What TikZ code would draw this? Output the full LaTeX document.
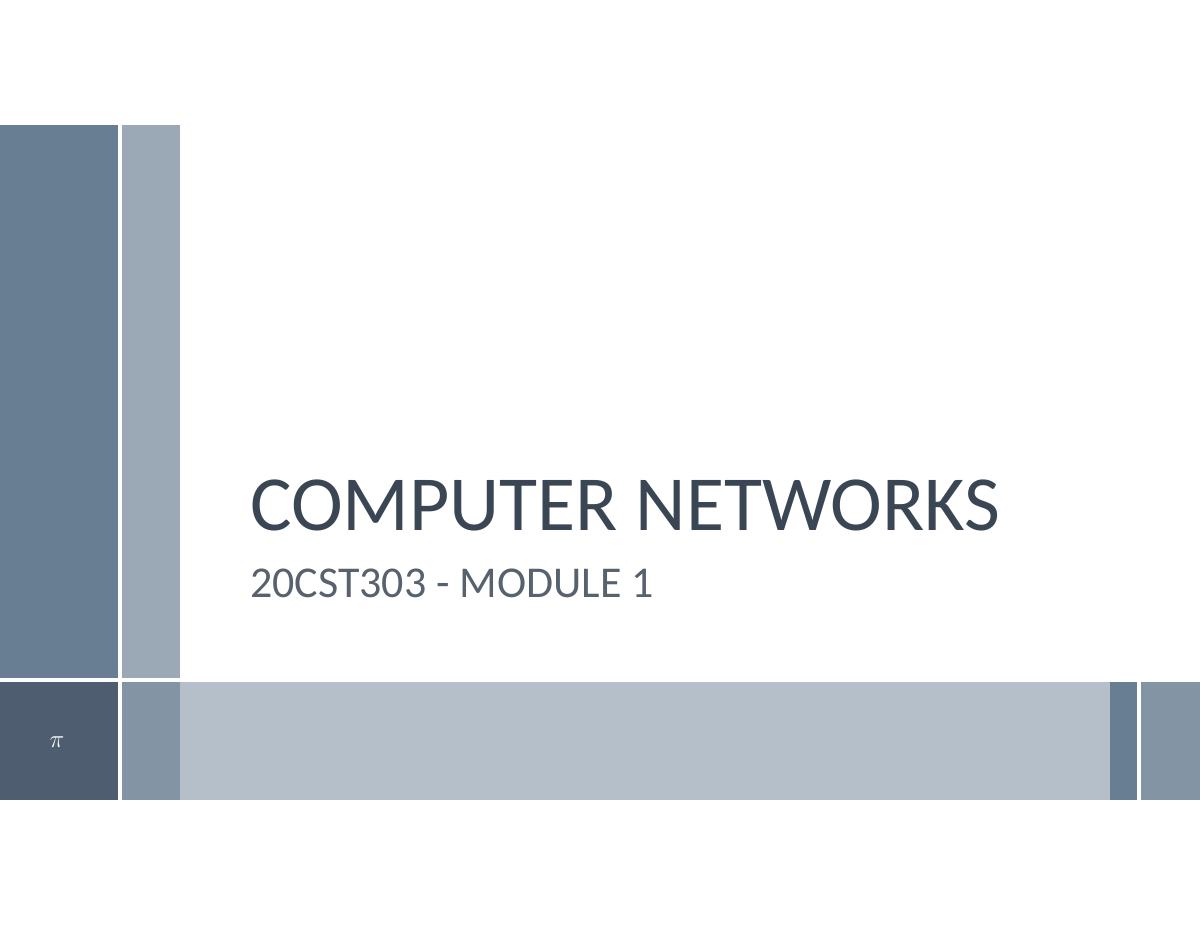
\documentclass[tikz,border=0pt]{standalone}
\usepackage{fontspec}
\setmainfont{Carlito}
\definecolor{cA}{HTML}{687E93}
\definecolor{cB}{HTML}{9BA9B6}
\definecolor{cC}{HTML}{4E5E70}
\definecolor{cD}{HTML}{8395A4}
\definecolor{cE}{HTML}{B5BFC9}
\definecolor{txt}{HTML}{3A4654}
\begin{document}
\begin{tikzpicture}[x=1pt,y=-1pt]
\fill[white] (0,0) rectangle (1200,927);
\fill[cA] (0,125) rectangle (118,678);
\fill[cB] (122,125) rectangle (180,678);
\fill[cC] (0,682) rectangle (118,800);
\fill[cD] (122,682) rectangle (180,800);
\fill[cE] (180,682) rectangle (1110,800);
\fill[cA] (1110,682) rectangle (1137,800);
\fill[cD] (1141,682) rectangle (1200,800);
\node[text=white,font=\fontsize{70}{70}\selectfont] (pi) at (57,742) {$\pi$};
\node[anchor=base west,inner sep=0,text=txt,font=\fontsize{78}{78}\selectfont] (title) at (250,530) {COMPUTER NETWORKS};
\node[anchor=base west,inner sep=0,text=txt!85!white,font=\fontsize{44}{44}\selectfont] (sub) at (250,597) {20CST303 - MODULE 1};
\end{tikzpicture}
\end{document}
